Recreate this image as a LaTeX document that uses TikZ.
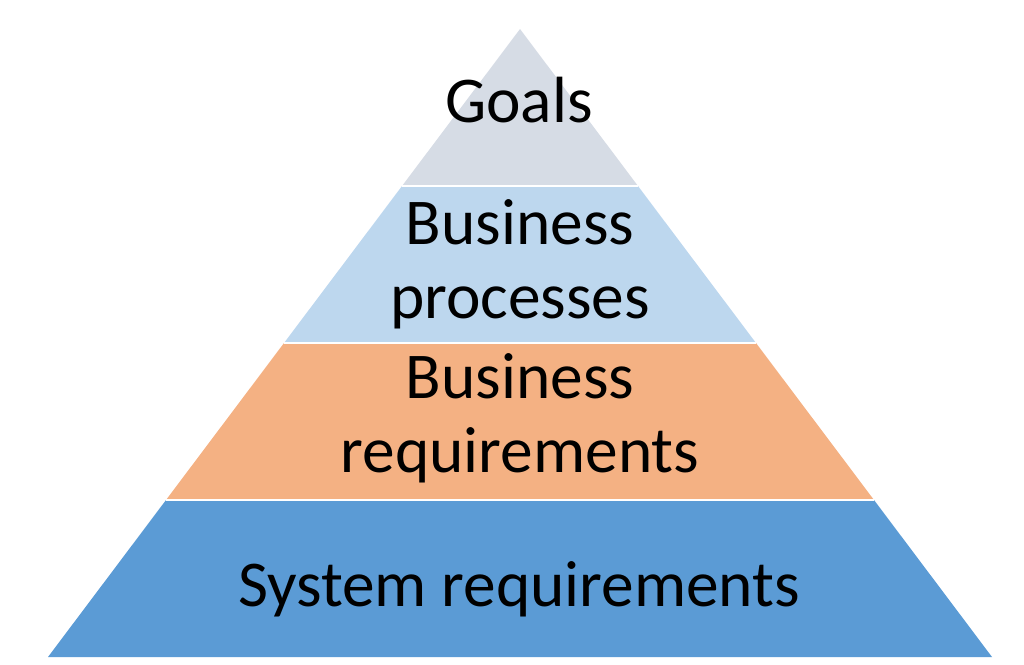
\documentclass[tikz,border=0pt]{standalone}
\usepackage{fontspec}
\setmainfont{Carlito}
\usetikzlibrary{calc}
\definecolor{goalgray}{HTML}{D6DCE5}
\definecolor{proclight}{HTML}{BDD7EE}
\definecolor{reqorange}{HTML}{F4B183}
\definecolor{sysblue}{HTML}{5B9BD5}
\tikzset{
    %Define style for the pyramid layers
    layer/.style={
           draw=white,
           line width=2.2pt,
           line join=miter},
    %Define style for the layer texts
    layertext/.style={
           anchor=base,
           align=center,
           inner sep=0pt,
           font=\fontsize{49}{55}\selectfont}
}
\begin{document}
\begin{tikzpicture}[x=0.75pt,y=-0.75pt]
\useasboundingbox (0,0) rectangle (1024,664);
\coordinate (apex) at (520,29);
\coordinate (bl) at (48,657);
\coordinate (br) at (992,657);

\fill[goalgray] (apex) -- ($(apex)!0.25!(br)$) -- ($(apex)!0.25!(bl)$) -- cycle;
\fill[proclight] ($(apex)!0.25!(bl)$) -- ($(apex)!0.25!(br)$) -- ($(apex)!0.5!(br)$) -- ($(apex)!0.5!(bl)$) -- cycle;
\fill[reqorange] ($(apex)!0.5!(bl)$) -- ($(apex)!0.5!(br)$) -- ($(apex)!0.75!(br)$) -- ($(apex)!0.75!(bl)$) -- cycle;
\fill[sysblue] ($(apex)!0.75!(bl)$) -- ($(apex)!0.75!(br)$) -- (br) -- (bl) -- cycle;

\draw[layer] ($(apex)!0.25!(bl)$) -- ($(apex)!0.25!(br)$);
\draw[layer] ($(apex)!0.5!(bl)$) -- ($(apex)!0.5!(br)$);
\draw[layer] ($(apex)!0.75!(bl)$) -- ($(apex)!0.75!(br)$);

\node[layertext](goals) at (519,122){Goals};
\node[layertext](procs) at (520,318){Business\\processes};
\node[layertext](breqs) at (520,472){Business\\requirements};
\node[layertext](sreqs) at (519,606){System requirements};
\end{tikzpicture}
\end{document}
